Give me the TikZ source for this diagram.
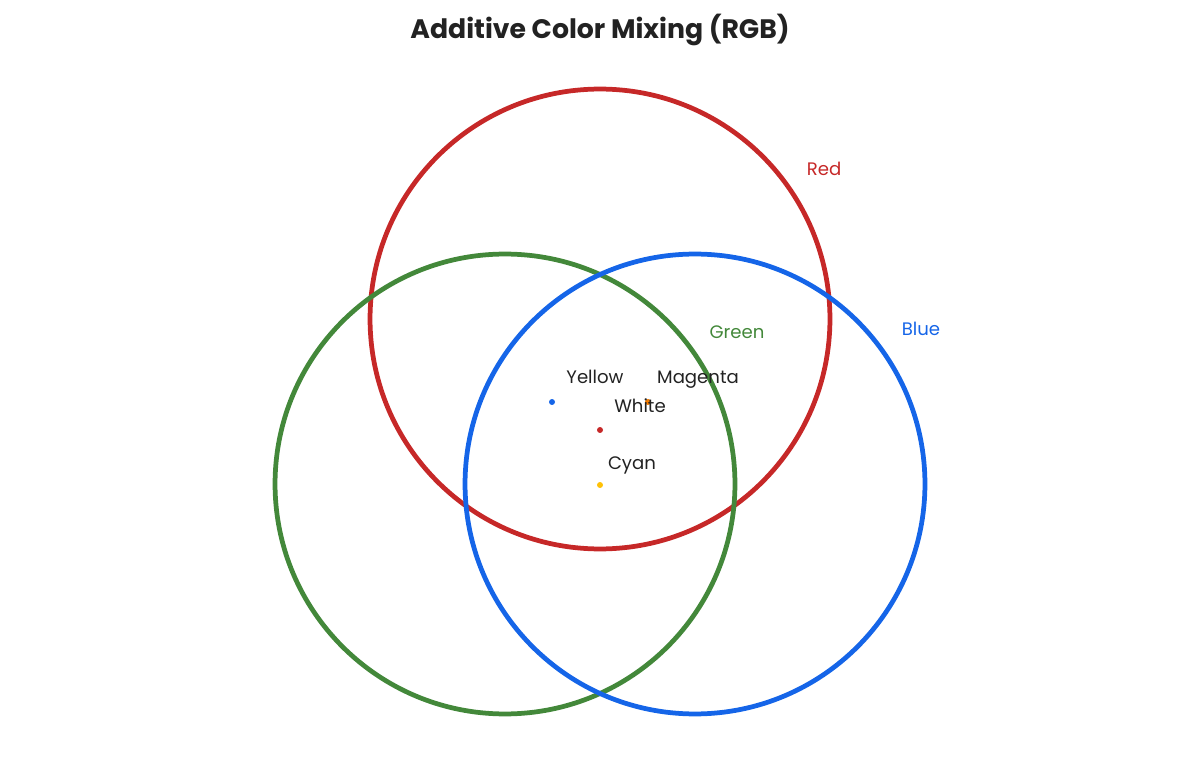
\documentclass[tikz,border=0pt]{standalone}
\usepackage{fontspec}
\setmainfont{Poppins}
\usetikzlibrary{positioning}
\definecolor{rgbred}{HTML}{C62828}
\definecolor{rgbgreen}{HTML}{43883A}
\definecolor{rgbblue}{HTML}{1565E8}
\definecolor{dotorange}{HTML}{F57C00}
\definecolor{dotyellow}{HTML}{FFC107}
\definecolor{inktext}{HTML}{222222}
\begin{document}
\begin{tikzpicture}[x=0.02cm,y=-0.02cm,inner sep=0pt,outer sep=0pt,
lightcircle/.style={draw,circle,line width=0.095cm,minimum size=9.2cm},
mixdot/.style={circle,fill,minimum size=0.12cm},
mixlabel/.style={font=\fontsize{10.3}{12}\selectfont,text=inktext},
lightlabel/.style={font=\fontsize{10.3}{12}\selectfont}]
\useasboundingbox (0,0) rectangle (1200,763);

\node[font=\fontsize{15.2}{18}\bfseries\selectfont,text=inktext] (title) at (600,30) {Additive Color Mixing (RGB)};

% the three light circles
\node[lightcircle,rgbred] (R) at (600,319) {};
\node[lightcircle,rgbgreen] (G) at (505,484) {};
\node[lightcircle,rgbblue] (B) at (695,484) {};

\node[lightlabel,text=rgbred] (Rlab) at (824,169) {Red};
\node[lightlabel,text=rgbgreen] (Glab) at (737,332) {Green};
\node[lightlabel,text=rgbblue] (Blab) at (921,329) {Blue};

% mixing points
\node[mixdot,rgbblue] (ydot) at (552,402) {};
\node[mixdot,dotorange] (mdot) at (648,402) {};
\node[mixdot,rgbred] (wdot) at (600,430) {};
\node[mixdot,dotyellow] (cdot) at (600,485) {};

\node[mixlabel] (Ylab) at (595,377) {Yellow};
\node[mixlabel] (Mlab) at (698,380) {Magenta};
\node[mixlabel] (Wlab) at (640,406) {White};
\node[mixlabel] (Clab) at (632,465) {Cyan};

\end{tikzpicture}
\end{document}
